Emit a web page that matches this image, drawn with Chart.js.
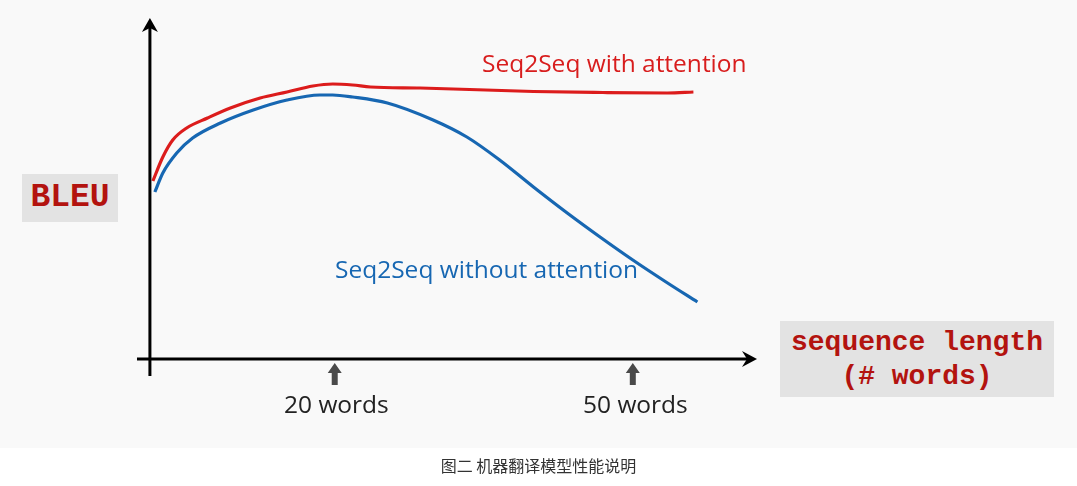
<!DOCTYPE html>
<html>
<head>
<meta charset="utf-8">
<script src="https://cdn.jsdelivr.net/npm/chart.js@4"></script>
<style>
  html, body { margin: 0; padding: 0; }
  #wrap { position: relative; width: 1077px; height: 486px;
    background: linear-gradient(#f9f9f9 0, #f9f9f9 448px, #ffffff 448px); overflow: hidden; }
  #c { position: absolute; left: 0; top: 0; }
  .lbl { position: absolute; white-space: nowrap; font-family: "Open Sans", sans-serif; font-size: 24.5px; line-height: 24px; }
  .box { position: absolute; background: #e3e3e3; font-family: "Liberation Mono", "DejaVu Sans Mono", monospace;
    font-weight: bold; color: #b3130f; text-align: center; white-space: nowrap; }
  #cap { position: absolute; left: 0; width: 1077px; text-align: center; top: 455px;
    font-family: "Noto Sans CJK SC", sans-serif; font-size: 16px; line-height: 20px; color: #333; }
</style>
</head>
<body>
<div id="wrap">
  <canvas id="c" width="1077" height="486"></canvas>
  <div class="lbl" style="left:482px; top:51px; color:#d81d1d;">Seq2Seq with attention</div>
  <div class="lbl" style="left:335px; top:257px; color:#1767b2;">Seq2Seq without attention</div>
  <div class="lbl" style="left:284px; top:392px; color:#222;">20 words</div>
  <div class="lbl" style="left:583px; top:392px; color:#222;">50 words</div>
  <div class="box" style="left:22px; top:174px; width:96px; height:48px; font-size:33px; line-height:48px;">BLEU</div>
  <div class="box" style="left:780px; top:321px; width:274px; height:76px; font-size:28px; line-height:34px; padding-top:5px; box-sizing:border-box;">sequence length<br>(# words)</div>
  <div id="cap">图二 机器翻译模型性能说明</div>
</div>
<script>
// sequence length (words) and BLEU (arbitrary units)
const withAttnX = [1.7, 2.7, 3.7, 5.1, 7.2, 9.5, 12.5, 15.2, 17.8, 19.8, 21.8, 23.6, 28.6, 40.0, 47.0, 53.5, 56.1];
const withAttnY = [17.8, 20.2, 21.9, 23.1, 24.1, 25.1, 26.1, 26.7, 27.3, 27.5, 27.4, 27.2, 27.1, 26.75, 26.65, 26.6, 26.7];
const withoutAttnX = [1.9, 2.7, 4.1, 5.7, 8.5, 11.8, 15.2, 18.5, 19.8, 21.8, 25.3, 29.9, 33.3, 36.6, 40.0, 43.4, 46.7, 50.0, 53.5, 56.5];
const withoutAttnY = [16.7, 18.6, 20.6, 22.1, 23.6, 24.9, 25.9, 26.4, 26.4, 26.2, 25.6, 23.9, 22.2, 19.9, 17.2, 14.6, 12.2, 9.9, 7.6, 5.7];
const markerWords = [20, 50];
const xRange = [0, 62.5];
const yRange = [0, 34.1];
const yAxisAt = 1.4;      // word position of the drawn vertical axis
const yAxisBottom = -1.7; // vertical axis extends slightly below the x axis
const xAxisStart = 0.1;

function pts(xs, ys) { return xs.map((x, i) => ({ x: x, y: ys[i] })); }

const axesPlugin = {
  id: 'sketchAxes',
  afterDatasetsDraw(chart) {
    const ctx = chart.ctx, xs = chart.scales.x, ys = chart.scales.y;
    ctx.save();
    ctx.strokeStyle = '#000'; ctx.fillStyle = '#000'; ctx.lineWidth = 3;
    // vertical axis
    const ax = xs.getPixelForValue(yAxisAt);
    const yTop = ys.getPixelForValue(yRange[1]);
    ctx.beginPath();
    ctx.moveTo(ax, ys.getPixelForValue(yAxisBottom));
    ctx.lineTo(ax, yTop + 10);
    ctx.stroke();
    ctx.beginPath();
    ctx.moveTo(ax, yTop);
    ctx.lineTo(ax - 8, yTop + 14);
    ctx.lineTo(ax, yTop + 10);
    ctx.lineTo(ax + 8, yTop + 14);
    ctx.closePath(); ctx.fill();
    // horizontal axis
    const ay = ys.getPixelForValue(0);
    const xEnd = xs.getPixelForValue(xRange[1]);
    ctx.beginPath();
    ctx.moveTo(xs.getPixelForValue(xAxisStart), ay);
    ctx.lineTo(xEnd - 10, ay);
    ctx.stroke();
    ctx.beginPath();
    ctx.moveTo(xEnd, ay);
    ctx.lineTo(xEnd - 15, ay - 8);
    ctx.lineTo(xEnd - 10, ay);
    ctx.lineTo(xEnd - 15, ay + 8);
    ctx.closePath(); ctx.fill();
    // marker arrows
    ctx.fillStyle = '#4a4a4a';
    markerWords.forEach(w => {
      const mx = xs.getPixelForValue(w);
      const t = ay + 4;
      ctx.beginPath();
      ctx.moveTo(mx, t);
      ctx.lineTo(mx - 7, t + 10);
      ctx.lineTo(mx - 3, t + 10);
      ctx.lineTo(mx - 3, t + 22);
      ctx.lineTo(mx + 3, t + 22);
      ctx.lineTo(mx + 3, t + 10);
      ctx.lineTo(mx + 7, t + 10);
      ctx.closePath(); ctx.fill();
    });
    ctx.restore();
  }
};

new Chart(document.getElementById('c'), {
  type: 'line',
  data: {
    datasets: [
      { label: 'Seq2Seq with attention', data: pts(withAttnX, withAttnY),
        borderColor: '#dc1c1c', borderWidth: 3.2, pointRadius: 0, cubicInterpolationMode: 'monotone', fill: false },
      { label: 'Seq2Seq without attention', data: pts(withoutAttnX, withoutAttnY),
        borderColor: '#1767b2', borderWidth: 3.2, pointRadius: 0, cubicInterpolationMode: 'monotone', fill: false }
    ]
  },
  options: {
    responsive: false,
    animation: false,
    devicePixelRatio: 1,
    layout: { padding: { left: 136, right: 320, top: 18, bottom: 127 } },
    plugins: { legend: { display: false }, tooltip: { enabled: false } },
    scales: {
      x: { type: 'linear', display: false, min: xRange[0], max: xRange[1] },
      y: { type: 'linear', display: false, min: yRange[0], max: yRange[1] }
    }
  },
  plugins: [axesPlugin]
});
</script>
</body>
</html>
